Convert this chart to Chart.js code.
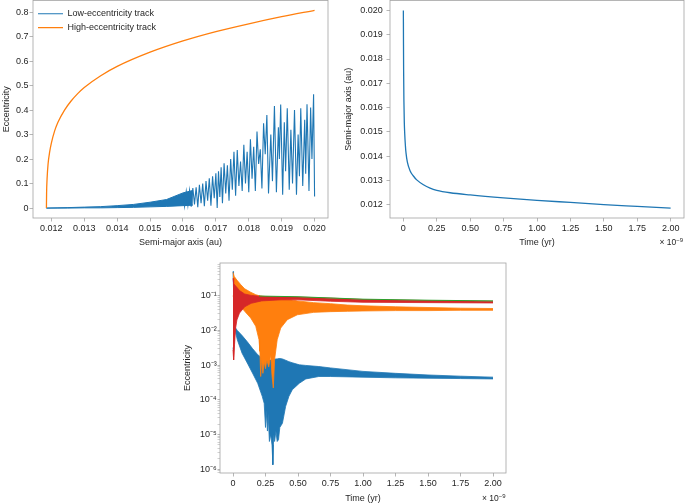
<!DOCTYPE html>
<html>
<head>
<meta charset="utf-8">
<script src="https://cdn.jsdelivr.net/npm/chart.js@4.4.0/dist/chart.umd.min.js"></script>
<style>
  body { margin: 0; width: 685px; height: 504px; background: #fff; position: relative; overflow: hidden;
         font-family: "Liberation Sans", Arial, sans-serif; }
  .panel { position: absolute; }
  .mult { position: absolute; font-size: 8.5px; line-height: 11px; color: #262626; white-space: nowrap; }
  .mult sup { font-size: 6px; vertical-align: 3px; line-height: 0; }
</style>
</head>
<body>
<div class="panel" style="left:0;top:0"><canvas id="c1" width="340" height="252"></canvas></div>
<div class="panel" style="left:340px;top:0"><canvas id="c2" width="345" height="252"></canvas></div>
<div class="panel" style="left:180px;top:258px"><canvas id="c3" width="330" height="246"></canvas></div>
<div class="mult" style="right:2px;top:237px">× 10<sup>−9</sup></div>
<div class="mult" style="left:482px;top:493px">× 10<sup>−9</sup></div>
<script>
// ---- panel a: eccentricity vs semi-major axis ----
const highA = [0.01185, 0.011855, 0.01187, 0.0119, 0.01195, 0.012, 0.0121, 0.0122, 0.0124, 0.0126, 0.0128,
  0.013, 0.0135, 0.014, 0.015, 0.016, 0.017, 0.018, 0.019, 0.020]
const highE = [0, 0.06, 0.12, 0.18, 0.23, 0.265, 0.315, 0.35, 0.40, 0.437, 0.467,
  0.492, 0.54, 0.578, 0.636, 0.682, 0.72, 0.752, 0.781, 0.807]

// dense part of the low-eccentricity track (drawn as an envelope)
const lowBandA = [0.01185, 0.0122, 0.0125, 0.013, 0.0135, 0.014, 0.0145, 0.015, 0.0155, 0.016, 0.0163]
const lowBandTop = [0, 0.001, 0.002, 0.004, 0.006, 0.010, 0.015, 0.024, 0.035, 0.062, 0.072]
const lowBandBottom = [0, 0, 0, 0.001, 0.001, 0.002, 0.003, 0.005, 0.007, 0.01, 0.012]

// oscillating part of the low-eccentricity track (peaks and troughs)
const lowA = [0.01600, 0.01605, 0.01610, 0.01615, 0.01620, 0.01625, 0.01630, 0.01635, 0.01640, 0.01645,
  0.01650, 0.01655, 0.01660, 0.01665, 0.01670, 0.01675, 0.01680, 0.01685, 0.01690, 0.01695,
  0.01700, 0.01704, 0.01708, 0.01712, 0.01716, 0.01720, 0.01725, 0.01730, 0.01735, 0.01740,
  0.01745, 0.01750, 0.01755, 0.01760, 0.01765, 0.01770, 0.01775, 0.01780, 0.01785, 0.01790,
  0.01795, 0.01800, 0.01805, 0.01810, 0.01815, 0.01820, 0.01825, 0.01830, 0.01835, 0.01840,
  0.01845, 0.01850, 0.01855, 0.01860, 0.01867, 0.01872, 0.01878, 0.01884, 0.01890, 0.01893,
  0.01897, 0.01903, 0.01908, 0.01912, 0.01917, 0.01923, 0.01928, 0.01933, 0.01939, 0.01945,
  0.01950, 0.01954, 0.01958, 0.01964, 0.01970, 0.01973, 0.01977, 0.01983, 0.01988, 0.01992,
  0.01997, 0.02000]
const lowE = [0.060, 0.008, 0.068, 0.012, 0.072, 0.006, 0.082, 0.015, 0.085, 0.004,
  0.095, 0.020, 0.100, 0.008, 0.110, 0.030, 0.122, 0.010, 0.130, 0.040,
  0.142, 0.000, 0.150, 0.045, 0.167, 0.020, 0.183, 0.060, 0.175, 0.030,
  0.200, 0.075, 0.230, 0.050, 0.237, 0.090, 0.190, 0.070, 0.258, 0.100,
  0.230, 0.065, 0.281, 0.120, 0.250, 0.070, 0.312, 0.180, 0.240, 0.080,
  0.346, 0.220, 0.380, 0.060, 0.300, 0.110, 0.416, 0.065, 0.330, 0.200,
  0.423, 0.055, 0.350, 0.150, 0.407, 0.075, 0.320, 0.100, 0.400, 0.055,
  0.300, 0.130, 0.407, 0.090, 0.360, 0.140, 0.424, 0.070, 0.410, 0.200,
  0.464, 0.047]

const axisTicksA = [0.012, 0.013, 0.014, 0.015, 0.016, 0.017, 0.018, 0.019, 0.020]
const eccTicks = [0, 0.1, 0.2, 0.3, 0.4, 0.5, 0.6, 0.7, 0.8]

// ---- panel b: semi-major axis vs time ----
const timeB = [0, 0.001, 0.002, 0.004, 0.007, 0.01, 0.015, 0.02, 0.03, 0.05, 0.075, 0.1, 0.15, 0.2, 0.25,
  0.35, 0.5, 0.75, 1.0, 1.25, 1.5, 1.75, 2.0]
const semiMajor = [0.0200, 0.0186, 0.0175, 0.0163, 0.0154, 0.01494, 0.01445, 0.01412, 0.01375, 0.0134,
  0.01318, 0.01302, 0.01282, 0.01268, 0.01259, 0.01249, 0.01240, 0.01228, 0.01218, 0.01209,
  0.01200, 0.01193, 0.01186]
const semiTicks = [0.012, 0.013, 0.014, 0.015, 0.016, 0.017, 0.018, 0.019, 0.020]
const timeTicks = [0, 0.25, 0.5, 0.75, 1.0, 1.25, 1.5, 1.75, 2.0]

// ---- panel c: eccentricity bands (upper / lower envelope of each oscillation) ----
const blueT = [0, 0.004, 0.015, 0.02, 0.033, 0.07, 0.11, 0.15, 0.19, 0.225,
  0.24, 0.25, 0.255, 0.265, 0.27, 0.28, 0.29, 0.3, 0.307, 0.313,
  0.32, 0.33, 0.34, 0.35, 0.36, 0.38, 0.405, 0.43, 0.456, 0.51,
  0.56, 0.66, 0.75, 1.0, 1.25, 1.5, 1.75, 2.0]
const blueTop = [0.50, 0.158, 0.0126, 0.0117, 0.0100, 0.0071, 0.0047, 0.0030, 0.0020, 0.00158,
  0.00141, 0.00138, 0.00138, 0.00138, 0.00138, 0.00141, 0.00141, 0.00145, 0.00145, 0.00148,
  0.00148, 0.00151, 0.00151, 0.00155, 0.00155, 0.00151, 0.00138, 0.00126, 0.00117, 0.00102,
  0.00098, 0.00091, 0.00083, 0.00066, 0.00058, 0.00052, 0.00048, 0.00045]
const blueBottom = [0.0032, 0.0025, 0.0112, 0.0089, 0.0054, 0.0022, 0.00115, 0.00059, 0.00030, 0.000126,
  7.9e-5, 1.6e-5, 5.0e-5, 1.26e-5, 4.0e-5, 6.3e-6, 1.0e-5, 5.0e-6, 1.35e-6, 1.0e-5,
  6.3e-6, 1.26e-5, 6.3e-6, 7.1e-6, 1.6e-5, 2.1e-5, 6.5e-5, 1.26e-4, 1.95e-4, 3.0e-4,
  4.0e-4, 4.7e-4, 4.7e-4, 4.5e-4, 4.3e-4, 4.2e-4, 4.1e-4, 4.0e-4]

const orangeT = [0, 0.01, 0.03, 0.059, 0.09, 0.136, 0.175, 0.2, 0.207, 0.213,
  0.22, 0.23, 0.24, 0.25, 0.26, 0.275, 0.29, 0.3, 0.31, 0.32,
  0.34, 0.367, 0.418, 0.495, 0.62, 0.75, 0.88, 1.0, 1.25, 1.5, 1.75, 2.0]
const orangeTop = [0.468, 0.355, 0.282, 0.209, 0.158, 0.126, 0.107, 0.100, 0.100, 0.0977,
  0.0977, 0.0955, 0.0955, 0.0933, 0.0933, 0.0912, 0.0891, 0.0891, 0.0871, 0.0871,
  0.0851, 0.0832, 0.0794, 0.0708, 0.0631, 0.0589, 0.0537, 0.0513, 0.0479, 0.0457, 0.0437, 0.0427]
const orangeBottom = [0.100, 0.0794, 0.0631, 0.0490, 0.0355, 0.0229, 0.0132, 0.0054, 0.0025, 0.00047,
  0.00158, 0.00058, 0.00126, 0.00079, 0.00141, 0.00089, 0.0020, 0.00050, 0.00022, 0.00145,
  0.0054, 0.0117, 0.0204, 0.0282, 0.0331, 0.0347, 0.0355, 0.0363, 0.0372, 0.0372, 0.0380, 0.0380]

const redT = [0, 0.003, 0.007, 0.012, 0.02, 0.03, 0.05, 0.09, 0.14, 0.22, 0.37, 0.5, 0.75, 1.0, 1.5, 2.0]
const redTop = [0.316, 0.251, 0.224, 0.209, 0.191, 0.174, 0.141, 0.112, 0.102, 0.0955,
  0.0933, 0.0912, 0.0851, 0.0776, 0.0724, 0.0692]
const redBottom = [0.00275, 0.0079, 0.00141, 0.0040, 0.0115, 0.0200, 0.0316, 0.0479, 0.0603, 0.0708,
  0.0759, 0.0759, 0.0692, 0.0646, 0.0631, 0.0617]

const greenT = [0.2, 0.5, 1.0, 1.5, 2.0]
const greenE = [0.0977, 0.0933, 0.0794, 0.0741, 0.0708]

const logDecades = [1e-6, 1e-5, 1e-4, 1e-3, 1e-2, 1e-1]

// ---- styling ----
const FONT = { family: '"Liberation Sans", Arial, sans-serif', size: 9 }
const TEXT = '#262626'
const SPINE = '#a3a3a3'
const C_BLUE = '#1f77b4'
const C_ORANGE = '#ff7f0e'
const C_GREEN = '#2ca02c'
const C_RED = '#d62728'

Chart.defaults.font.family = FONT.family
Chart.defaults.animation = false

const pts = (xs, ys) => xs.map((x, i) => ({ x: x, y: ys[i] }))

// draws the four spines round the plot area
const frame = {
  id: 'frame',
  afterDatasetsDraw(chart) {
    const { ctx, chartArea: a } = chart
    ctx.save()
    ctx.strokeStyle = SPINE
    ctx.lineWidth = 0.8
    ctx.strokeRect(a.left, a.top, a.right - a.left, a.bottom - a.top)
    ctx.restore()
  }
}

function axis(o) {
  const horizontal = o.horizontal
  return {
    type: o.type || 'linear',
    min: o.min,
    max: o.max,
    afterBuildTicks: s => { s.ticks = o.ticks.map(v => ({ value: v })) },
    afterFit: s => {
      if (horizontal) { s.height = o.size; s.paddingLeft = 0; s.paddingRight = 0 }
      else { s.width = o.size; s.paddingTop = 0; s.paddingBottom = 0 }
    },
    border: { display: false },
    grid: {
      drawOnChartArea: false, drawTicks: true, tickLength: o.tickLength || 3.5,
      tickColor: SPINE, tickWidth: o.tickWidth || 0.8
    },
    ticks: { color: TEXT, font: FONT, padding: o.pad, maxRotation: 0, autoSkip: false, callback: o.fmt },
    title: { display: true, text: o.title, color: TEXT, font: FONT, padding: o.titlePad }
  }
}

const noTip = { tooltip: { enabled: false } }

// ---- chart a ----
new Chart(document.getElementById('c1'), {
  type: 'line',
  data: {
    datasets: [
      { label: 'Low-eccentricity track', data: pts(lowA, lowE), borderColor: C_BLUE, backgroundColor: C_BLUE,
        borderWidth: 1.1, pointRadius: 0, order: 2 },
      { label: 'High-eccentricity track', data: pts(highA, highE), borderColor: C_ORANGE, backgroundColor: C_ORANGE,
        borderWidth: 1.3, pointRadius: 0, cubicInterpolationMode: 'monotone', order: 1 },
      { label: '', data: pts(lowBandA, lowBandBottom), borderColor: C_BLUE, borderWidth: 1, pointRadius: 0, order: 4 },
      { label: '', data: pts(lowBandA, lowBandTop), borderColor: C_BLUE, backgroundColor: C_BLUE,
        borderWidth: 1, pointRadius: 0, fill: 2, order: 3 }
    ]
  },
  options: {
    responsive: false,
    parsing: false,
    layout: { padding: { left: 0, right: 12, top: 0.5, bottom: 0 } },
    scales: {
      x: axis({ horizontal: true, min: 0.011442, max: 0.020408, ticks: axisTicksA, size: 34, pad: 2,
        fmt: v => v.toFixed(3), title: 'Semi-major axis (au)', titlePad: { top: 0, bottom: 3.6 } }),
      y: axis({ min: -0.0404, max: 0.847, ticks: eccTicks, size: 33, pad: 1,
        fmt: v => (v === 0 ? '0' : v.toFixed(1)), title: 'Eccentricity', titlePad: { top: 1.3, bottom: 0 } })
    },
    plugins: {
      ...noTip,
      legend: {
        position: 'chartArea',
        align: 'start',
        title: { display: true, text: ' ', font: { size: 1 }, padding: { top: 3, bottom: 0 } },
        labels: {
          usePointStyle: true, pointStyle: 'line', pointStyleWidth: 25, padding: 5,
          color: TEXT, font: FONT, filter: item => item.text !== '',
          sort: (a, b) => a.datasetIndex - b.datasetIndex
        }
      }
    }
  },
  plugins: [frame]
})

// ---- chart b ----
new Chart(document.getElementById('c2'), {
  type: 'line',
  data: {
    datasets: [
      { label: 'Semi-major axis', data: pts(timeB, semiMajor), borderColor: C_BLUE, borderWidth: 1.3,
        pointRadius: 0, cubicInterpolationMode: 'monotone' }
    ]
  },
  options: {
    responsive: false,
    parsing: false,
    layout: { padding: { left: 0, right: 1, top: 0.5, bottom: 0 } },
    scales: {
      x: axis({ horizontal: true, min: -0.1, max: 2.1, ticks: timeTicks, size: 34, pad: 2,
        fmt: v => (v === 0 ? '0' : v.toFixed(2)), title: 'Time (yr)', titlePad: { top: 0, bottom: 3.6 } }),
      y: axis({ min: 0.01145, max: 0.02041, ticks: semiTicks, size: 50, pad: 3.8,
        fmt: v => v.toFixed(3), title: 'Semi-major axis (au)', titlePad: { top: 3.6, bottom: 0 } })
    },
    plugins: { ...noTip, legend: { display: false } }
  },
  plugins: [frame]
})

// ---- chart c ----
const SUP = { '-': '⁻', '0': '⁰', '1': '¹', '2': '²', '3': '³', '4': '⁴', '5': '⁵', '6': '⁶', '7': '⁷', '8': '⁸', '9': '⁹' }
const logTicks = []
logDecades.forEach(d => { for (let m = 1; m <= 9; m++) if (m * d < 0.875) logTicks.push(m * d) })
for (let m = 8; m <= 9; m++) logTicks.unshift(m * 1e-7)
const isDecade = v => Math.abs(Math.log10(v) - Math.round(Math.log10(v))) < 1e-6
const decadeLabel = v => '10' + String(Math.round(Math.log10(v))).split('').map(c => SUP[c]).join('')

const band = (t, lo, hi, color, order, loIndex) => [
  { data: pts(t, lo), borderColor: color, borderWidth: 0.8, pointRadius: 0, order: order },
  { data: pts(t, hi), borderColor: color, backgroundColor: color, borderWidth: 0.8, pointRadius: 0,
    fill: loIndex, order: order }
]

const yLog = axis({ type: 'logarithmic', min: 7.8e-7, max: 0.875, ticks: logTicks, size: 40, pad: 0.8, tickLength: 2.5,
  fmt: v => (isDecade(v) ? decadeLabel(v) : ''), title: 'Eccentricity', titlePad: { top: 2.1, bottom: 0 } })
yLog.grid.tickWidth = c => (c.tick && isDecade(c.tick.value) ? 0.8 : 0.5)

new Chart(document.getElementById('c3'), {
  type: 'line',
  data: {
    datasets: [
      ...band(blueT, blueBottom, blueTop, C_BLUE, 4, 0),
      ...band(orangeT, orangeBottom, orangeTop, C_ORANGE, 3, 2),
      ...band(redT, redBottom, redTop, C_RED, 1, 4),
      { data: pts(greenT, greenE), borderColor: C_GREEN, borderWidth: 1, pointRadius: 0, order: 0 }
    ]
  },
  options: {
    responsive: false,
    parsing: false,
    layout: { padding: { left: 0, right: 4, top: 5, bottom: 0 } },
    scales: {
      x: axis({ horizontal: true, min: -0.1, max: 2.1, ticks: timeTicks, size: 31, pad: 2,
        fmt: v => (v === 0 ? '0' : v.toFixed(2)), title: 'Time (yr)', titlePad: { top: 0, bottom: 0 } }),
      y: yLog
    },
    plugins: { ...noTip, legend: { display: false } }
  },
  plugins: [frame]
})
</script>
</body>
</html>
